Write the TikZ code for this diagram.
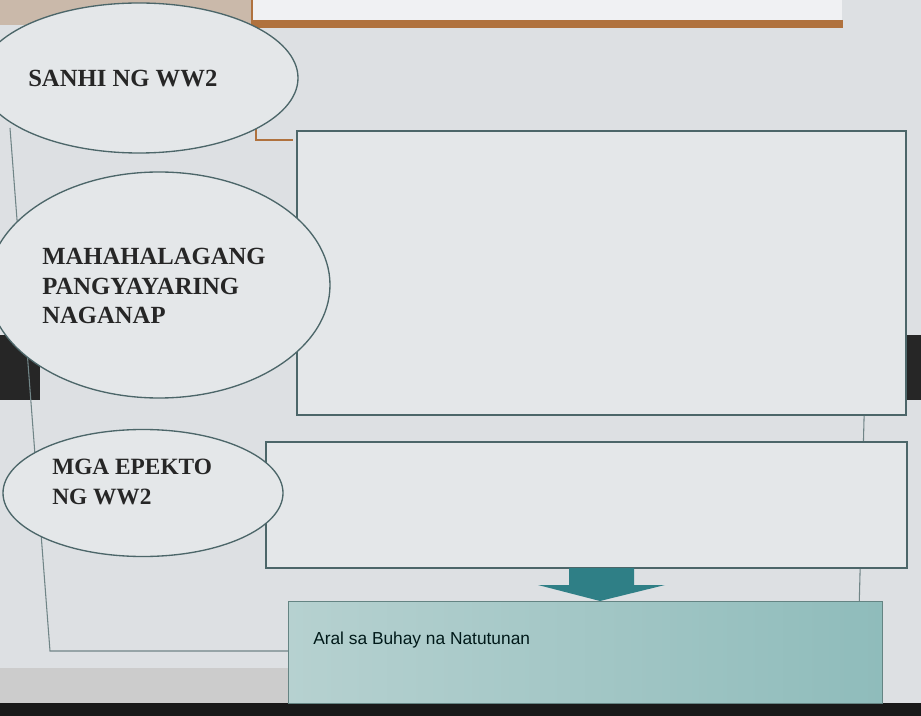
\documentclass[tikz,border=0pt]{standalone}
\usepackage{fontspec}
\setmainfont{Liberation Serif}
\newfontfamily\arialfont{Liberation Sans}
\usetikzlibrary{shapes.geometric,calc}

\definecolor{screen}{HTML}{DDE0E3}
\definecolor{panel}{HTML}{E4E7E9}
\definecolor{edge}{HTML}{4C6669}
\definecolor{wood}{HTML}{B0723E}
\definecolor{tealdark}{HTML}{2F7F86}
\definecolor{teallight}{HTML}{B6D1D0}
\definecolor{tealmid}{HTML}{8FBCBB}

\tikzset{
  oval/.style={ellipse,draw=edge,line width=1pt,fill=panel,inner sep=0pt},
  ovaltext/.style={font=\bfseries\fontsize{18.5}{22}\selectfont,align=left,
    inner sep=0pt,text=black!85,anchor=west},
  panelbox/.style={rectangle,draw=edge,line width=0.9pt,fill=panel,inner sep=0pt}
}

\begin{document}
\begin{tikzpicture}[x=0.75pt,y=-0.75pt]
  \useasboundingbox (0,0) rectangle (921,716);
  \fill[screen] (0,0) rectangle (921,716);
  % surroundings of the screen
  \fill[wood!70!black!40] (0,0) rectangle (252,25);
  \fill[black!85] (0,335) rectangle (40,400);
  \fill[black!85] (896,335) rectangle (921,400);
  \fill[black!20] (0,668) rectangle (288,703);
  \fill[black!90] (0,703) rectangle (921,716);

  % top title strip
  \fill[white!55!screen] (252,0) rectangle (842,22);
  \fill[wood] (252,20) rectangle (843,28);
  \draw[wood,line width=1pt] (252,0) -- (252,25);
  \draw[wood,line width=1pt] (256,124) -- (256,140) -- (293,140);

  % frame behind the boxes
  \draw[edge!80,line width=0.8pt] (10,128) -- (50,651) -- (858,651) -- (871,150);

  \node[panelbox,minimum width=609*0.75pt,minimum height=284*0.75pt]
    (pangyayari) at (601.5,273) {};
  \node[panelbox,minimum width=641*0.75pt,minimum height=126*0.75pt]
    (epekto) at (586.5,505) {};

  \node[oval,minimum width=318*0.75pt,minimum height=150*0.75pt] (ovalsanhi) at (139,78) {};
  \node[oval,minimum width=342*0.75pt,minimum height=226*0.75pt] (ovalmaha) at (159,285) {};
  \node[oval,minimum width=280*0.75pt,minimum height=127*0.75pt] (ovalmga) at (143,493) {};

  \node[ovaltext] (sanhi) at (28,79) {SANHI NG WW2};
  \node[ovaltext] (maha) at (42,286) {MAHAHALAGANG\\PANGYAYARING\\NAGANAP};
  \node[ovaltext,font=\bfseries\fontsize{17.5}{22}\selectfont] (mga) at (52,482) {MGA EPEKTO\\NG WW2};

  % lesson box and arrow
  \node[rectangle,draw=tealmid!70!black,line width=0.6pt,left color=teallight,right color=tealmid,
    minimum width=594*0.75pt,minimum height=102*0.75pt,inner sep=0pt] (aral) at (585,652) {};
  \node[font=\arialfont\fontsize{13}{15}\selectfont,text=black!80!teal,anchor=west,inner sep=0pt]
    (araltxt) at (313,640) {Aral sa Buhay na Natutunan};
  \fill[tealdark] (569,568) -- (634,568) -- (634,585) -- (665,585) -- (600,601)
    -- (538,585) -- (569,585) -- cycle;
\end{tikzpicture}
\end{document}
